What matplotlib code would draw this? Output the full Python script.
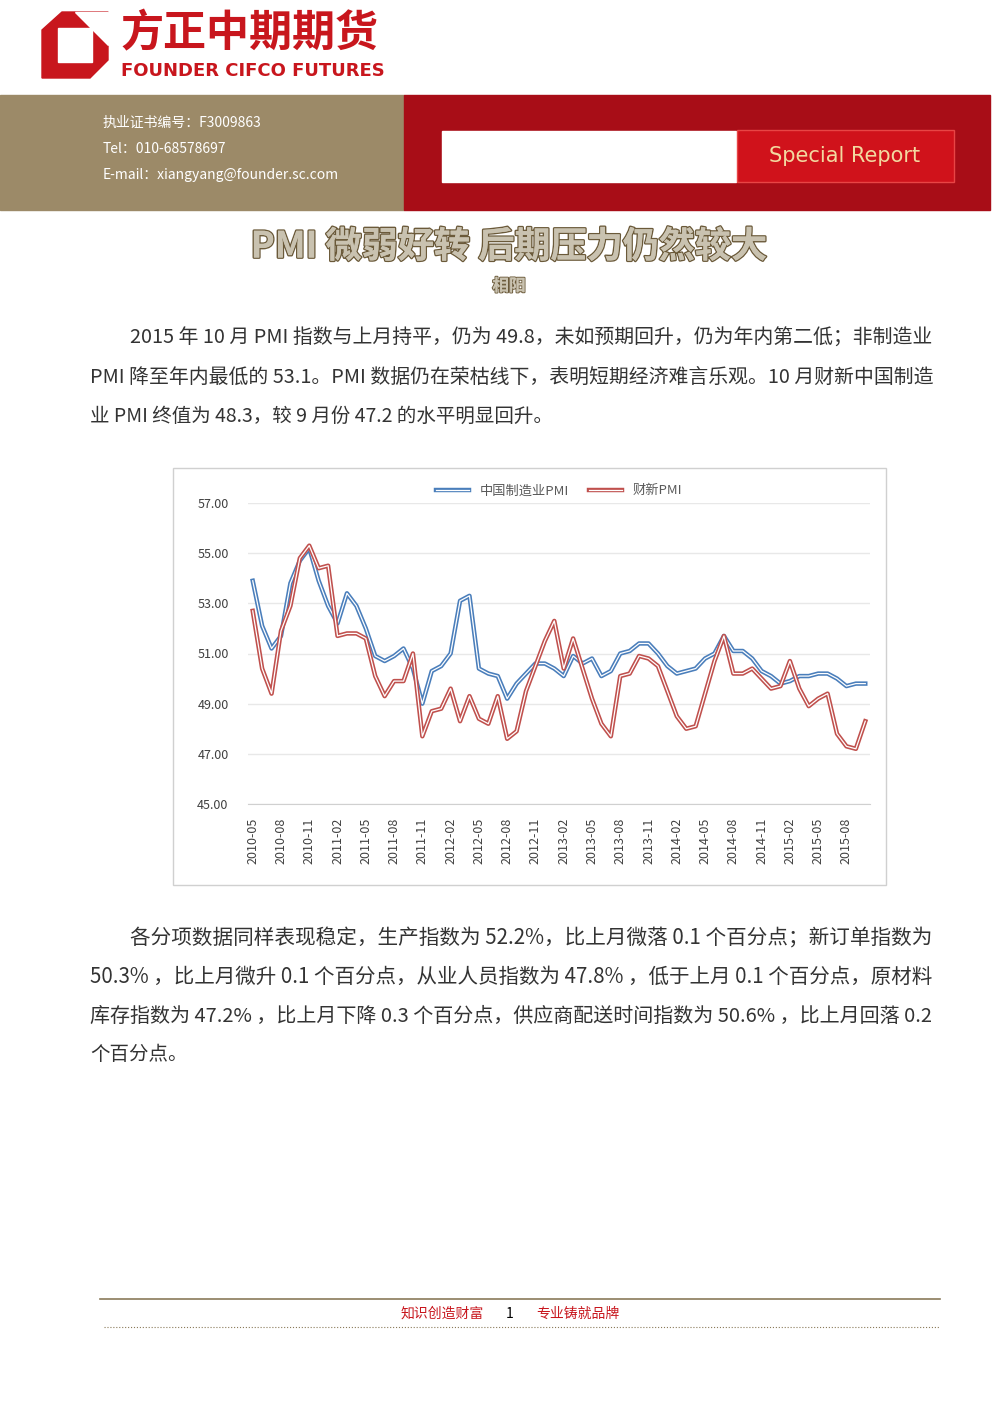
import matplotlib
matplotlib.use("Agg")
import matplotlib.pyplot as plt
from matplotlib.patches import Rectangle, Polygon
import matplotlib.patheffects as pe
import numpy as np

plt.rcParams['font.family'] = ['Noto Sans CJK SC', 'DejaVu Sans']

months = [f"{2010 + (4 + i) // 12}-{(4 + i) % 12 + 1:02d}" for i in range(66)]
nbs_pmi = [53.9, 52.1, 51.2, 51.7, 53.8, 54.7, 55.2, 53.9,
           52.9, 52.2, 53.4, 52.9, 52.0, 50.9, 50.7, 50.9, 51.2, 50.4, 49.0, 50.3,
           50.5, 51.0, 53.1, 53.3, 50.4, 50.2, 50.1, 49.2, 49.8, 50.2, 50.6, 50.6,
           50.4, 50.1, 50.9, 50.6, 50.8, 50.1, 50.3, 51.0, 51.1, 51.4, 51.4, 51.0,
           50.5, 50.2, 50.3, 50.4, 50.8, 51.0, 51.7, 51.1, 51.1, 50.8, 50.3, 50.1,
           49.8, 49.9, 50.1, 50.1, 50.2, 50.2, 50.0, 49.7, 49.8, 49.8]
caixin_pmi = [52.7, 50.4, 49.4, 51.9, 52.9, 54.8, 55.3, 54.4,
              54.5, 51.7, 51.8, 51.8, 51.6, 50.1, 49.3, 49.9, 49.9, 51.0, 47.7, 48.7,
              48.8, 49.6, 48.3, 49.3, 48.4, 48.2, 49.3, 47.6, 47.9, 49.5, 50.5, 51.5,
              52.3, 50.4, 51.6, 50.4, 49.2, 48.2, 47.7, 50.1, 50.2, 50.9, 50.8, 50.5,
              49.5, 48.5, 48.0, 48.1, 49.4, 50.7, 51.7, 50.2, 50.2, 50.4, 50.0, 49.6,
              49.7, 50.7, 49.6, 48.9, 49.2, 49.4, 47.8, 47.3, 47.2, 48.3]
series_names = ['中国制造业PMI', '财新PMI']
y_ticks = [45, 47, 49, 51, 53, 55, 57]

W, H = 992, 1403
fig = plt.figure(figsize=(W / 100, H / 100), dpi=100)
renderer = fig.canvas.get_renderer()

def fx(x): return x / W
def fy(y): return 1 - y / H
def rect(x0, y0, x1, y1, **kw):
    fig.patches.append(Rectangle((fx(x0), fy(y1)), fx(x1) - fx(x0), fy(y0) - fy(y1),
                                 transform=fig.transFigure, **kw))
def text(x, y, s, **kw):
    return fig.text(fx(x), fy(y), s, **kw)

red = '#c8161d'
# logo
fig.patches.append(Polygon([(fx(42), fy(78)), (fx(42), fy(30)), (fx(62), fy(12)), (fx(108), fy(12)),
                            (fx(108), fy(60)), (fx(90), fy(78))], closed=True,
                           transform=fig.transFigure, color=red))
rect(58, 28, 92, 62, color='white')
fig.patches.append(Polygon([(fx(75), fy(12)), (fx(108), fy(12)), (fx(108), fy(45))], closed=True,
                           transform=fig.transFigure, color='white'))
text(120, 33, '方正中期期货', fontsize=31, color=red, weight='bold', va='center')
text(121, 71, 'FOUNDER CIFCO FUTURES', fontsize=13, color=red, weight='bold', va='center',
     family='DejaVu Sans')

# banner
rect(0, 95, 404, 210, color='#9c8a68')
rect(404, 95, 990, 210, color='#a80d17')
rect(442, 131, 736, 182, color='white')
rect(737, 130, 954, 182, color='#d0121b', ec='#e84545', lw=1)
text(845, 156, 'Special Report', fontsize=15, color='#f3d9a0', ha='center', va='center',
     family='DejaVu Sans')
for yy, s in [(123, '执业证书编号：F3009863'), (149, 'Tel：010-68578697'),
              (175, 'E-mail：xiangyang@founder.sc.com')]:
    text(103, yy, s, fontsize=10, color='white', va='center')

# title
t = text(509, 247, 'PMI 微弱好转 后期压力仍然较大', fontsize=26, weight='bold',
         color='#c9c2b0', ha='center', va='center')
t.set_path_effects([pe.withStroke(linewidth=2, foreground='#6b5a3a'), pe.Normal()])
t2 = text(509, 286, '相阳', fontsize=12, weight='bold', color='#c9c2b0',
          ha='center', va='center')
t2.set_path_effects([pe.withStroke(linewidth=1.5, foreground='#6b5a3a'), pe.Normal()])

body_color = '#333333'
def paragraph(lines, ys):
    for i, (s, yy) in enumerate(zip(lines, ys)):
        x0 = 130 if i == 0 else 90
        tt = text(x0, yy, s, fontsize=13, color=body_color, va='center')
        if i < len(lines) - 1:
            w = tt.get_window_extent(renderer).width
            tt.set_fontsize(13 * (930 - x0) / w)
        else:
            tt.set_fontsize(14)

paragraph(['2015 年 10 月 PMI 指数与上月持平，仍为 49.8，未如预期回升，仍为年内第二低；非制造业',
           'PMI 降至年内最低的 53.1。PMI 数据仍在荣枯线下，表明短期经济难言乐观。10 月财新中国制造',
           '业 PMI 终值为 48.3，较 9 月份 47.2 的水平明显回升。'], [338, 377, 416])
paragraph(['各分项数据同样表现稳定，生产指数为 52.2%，比上月微落 0.1 个百分点；新订单指数为',
           '50.3% ，比上月微升 0.1 个百分点，从业人员指数为 47.8% ，低于上月 0.1 个百分点，原材料',
           '库存指数为 47.2% ，比上月下降 0.3 个百分点，供应商配送时间指数为 50.6% ，比上月回落 0.2',
           '个百分点。'], [938, 977, 1016, 1055])

# chart box
rect(173, 468, 886, 885, fill=False, ec='#d0d0d0', lw=1)
ax = fig.add_axes([fx(248), fy(804), fx(870) - fx(248), fy(503) - fy(804)])
x = np.arange(len(months))
handles = []
for vals, col, name in [(nbs_pmi, '#4a7ebb', series_names[0]), (caixin_pmi, '#c0504d', series_names[1])]:
    h, = ax.plot(x, vals, color=col, lw=3.2, label=name,
                 path_effects=[pe.Stroke(linewidth=3.2, foreground=col),
                               pe.Stroke(linewidth=0.9, foreground='white')])
    handles.append(h)
ax.set_ylim(45, 57)
ax.set_xlim(-0.5, len(months) - 0.5)
ax.set_yticks(y_ticks)
ax.set_yticklabels([f'{v:.2f}' for v in y_ticks], fontsize=9, color='#404040')
ax.set_xticks(x[::3])
ax.set_xticklabels(months[::3], rotation=90, fontsize=9, color='#404040')
ax.grid(axis='y', color='#e8e8e8', lw=1)
ax.set_axisbelow(True)
for s in ['top', 'right', 'left']:
    ax.spines[s].set_visible(False)
ax.spines['bottom'].set_color('#d0d0d0')
ax.tick_params(length=0)
ax.tick_params(axis='y', pad=14)
ax.tick_params(axis='x', pad=10)
leg = ax.legend(loc='center', bbox_to_anchor=(0.5, 1.04), ncol=2, frameon=False,
                fontsize=9.5, handlelength=2.5, columnspacing=1.5)
for tx in leg.get_texts():
    tx.set_color('#595959')

# footer
fig.add_artist(plt.Line2D([fx(100), fx(940)], [fy(1299), fy(1299)], color='#8a7a5a', lw=1.2))
fig.add_artist(plt.Line2D([fx(104), fx(940)], [fy(1327), fy(1327)], color='#8a7a5a', lw=0.8, ls=':'))
text(442, 1314, '知识创造财富', fontsize=10, color=red, ha='center', va='center')
text(510, 1314, '1', fontsize=10, color='black', ha='center', va='center')
text(578, 1314, '专业铸就品牌', fontsize=10, color=red, ha='center', va='center')

fig.savefig('out.png', dpi=100, facecolor='white')
